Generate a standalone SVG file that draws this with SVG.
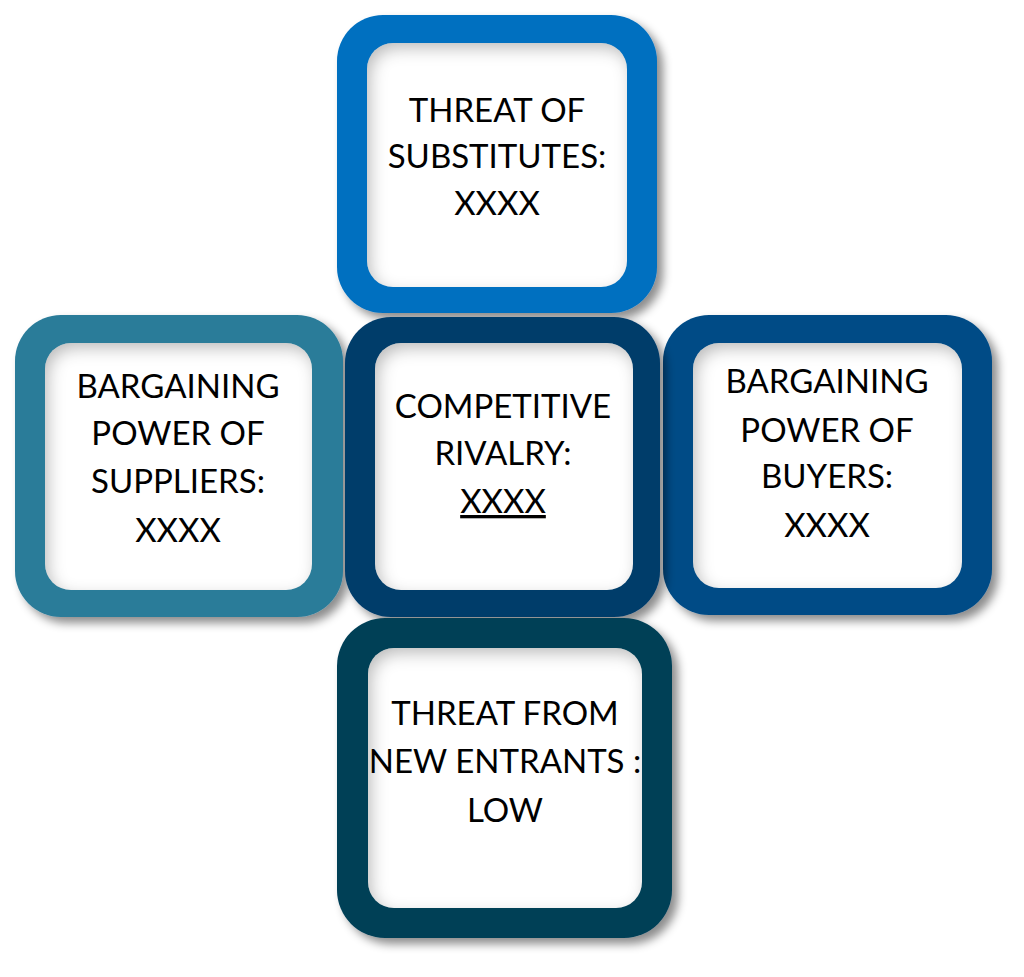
<svg xmlns="http://www.w3.org/2000/svg" width="1024" height="977" viewBox="0 0 1024 977">
<defs>
<filter id="drop" x="-20%" y="-20%" width="140%" height="140%">
<feGaussianBlur in="SourceAlpha" stdDeviation="5"/>
<feOffset dx="6" dy="6" result="b"/>
<feFlood flood-color="#000" flood-opacity="0.45"/>
<feComposite in2="b" operator="in"/>
<feMerge><feMergeNode/><feMergeNode in="SourceGraphic"/></feMerge>
</filter>
<filter id="inset" x="-20%" y="-20%" width="140%" height="140%">
<feComponentTransfer in="SourceAlpha"><feFuncA type="table" tableValues="1 0"/></feComponentTransfer>
<feGaussianBlur stdDeviation="8"/>
<feOffset dx="4" dy="6" result="off"/>
<feFlood flood-color="#000" flood-opacity="0.5"/>
<feComposite in2="off" operator="in"/>
<feComposite in2="SourceAlpha" operator="in" result="sh"/>
<feMerge><feMergeNode in="SourceGraphic"/><feMergeNode in="sh"/></feMerge>
</filter>
</defs>
<style>
.outer{filter:url(#drop);}
.inner{fill:#fff;filter:url(#inset);}
text{font-family:Lato,"Liberation Sans",sans-serif;font-size:33px;fill:#000;text-anchor:middle;}
</style>
<rect width="1024" height="977" fill="#fff"/>
<g id="suppliers">
<rect class="outer" x="15" y="315" width="328" height="302" rx="46" fill="#2A7B99"/>
<rect class="inner" x="45" y="343" width="267" height="247" rx="26"/>
<text x="178" y="398">BARGAINING</text>
<text x="178" y="445">POWER OF</text>
<text x="178" y="493">SUPPLIERS:</text>
<text x="178" y="542">XXXX</text>
</g>
<g id="buyers">
<rect class="outer" x="663" y="315" width="329" height="300" rx="46" fill="#044C86"/>
<rect class="inner" x="693" y="343" width="269" height="245" rx="26"/>
<text x="827" y="393">BARGAINING</text>
<text x="827" y="442">POWER OF</text>
<text x="827" y="488">BUYERS:</text>
<text x="827" y="537">XXXX</text>
</g>
<g id="substitutes">
<rect class="outer" x="337" y="15" width="320" height="298" rx="46" fill="#0070C0"/>
<rect class="inner" x="367" y="43" width="260" height="244" rx="26"/>
<text x="497" y="122">THREAT OF</text>
<text x="497" y="168">SUBSTITUTES:</text>
<text x="497" y="215">XXXX</text>
</g>
<g id="rivalry">
<rect class="outer" x="345" y="317" width="315" height="300" rx="46" fill="#033C6A"/>
<rect class="inner" x="375" y="343" width="258" height="247" rx="26"/>
<text x="503" y="418">COMPETITIVE</text>
<text x="503" y="465">RIVALRY:</text>
<text x="503" y="513" text-decoration="underline">XXXX</text>
</g>
<g id="entrants">
<rect class="outer" x="337" y="618" width="335" height="320" rx="48" fill="#053F57"/>
<rect class="inner" x="368" y="648" width="274" height="260" rx="26"/>
<text x="505" y="725">THREAT FROM</text>
<text x="505" y="773">NEW ENTRANTS :</text>
<text x="505" y="822">LOW</text>
</g>
<g id="connectors"></g>
</svg>
